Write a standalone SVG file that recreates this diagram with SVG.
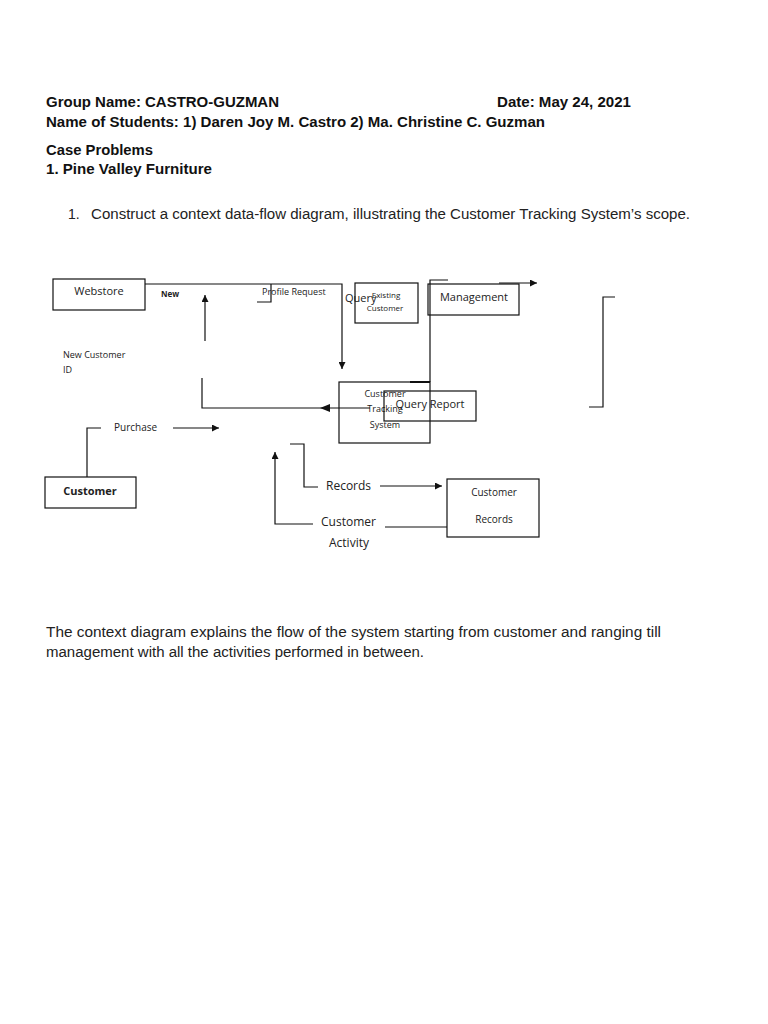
<svg xmlns="http://www.w3.org/2000/svg" width="768" height="1024" viewBox="0 0 768 1024">
<defs>
<style>
.h{font-family:"Liberation Sans",Arial,sans-serif;font-size:14px;font-weight:bold;fill:#111}
.p{font-family:"Liberation Sans",Arial,sans-serif;font-size:14px;fill:#222}
.l{font-family:"Open Sans","Liberation Sans",sans-serif;fill:#222}
.box{fill:none;stroke:#111;stroke-width:1.2}
.ln{fill:none;stroke:#111;stroke-width:1.2}
</style>
<marker id="ah" viewBox="0 0 10 10" refX="10" refY="5" markerWidth="7" markerHeight="7" orient="auto" markerUnits="userSpaceOnUse">
<path d="M0,0 L10,5 L0,10 z" fill="#111"/>
</marker>
</defs>
<rect width="768" height="1024" fill="#fff"/>
<g id="header">
<text class="h" x="46" y="107" textLength="233" lengthAdjust="spacingAndGlyphs">Group Name: CASTRO-GUZMAN</text>
<text class="h" x="497" y="107" textLength="134" lengthAdjust="spacingAndGlyphs">Date: May 24, 2021</text>
<text class="h" x="46" y="127" textLength="499" lengthAdjust="spacingAndGlyphs">Name of Students: 1) Daren Joy M. Castro 2) Ma. Christine C. Guzman</text>
<text class="h" x="46" y="155" fill="#333" textLength="107" lengthAdjust="spacingAndGlyphs">Case Problems</text>
<text class="h" x="46" y="174" textLength="166" lengthAdjust="spacingAndGlyphs">1. Pine Valley Furniture</text>
<text class="p" x="68" y="219" fill="#444">1.</text>
<text class="p" x="91" y="219" fill="#444" textLength="599" lengthAdjust="spacingAndGlyphs">Construct a context data-flow diagram, illustrating the Customer Tracking System’s scope.</text>
</g>
<g id="connectors">
<polyline class="ln" points="145,284 342,284 342,369" marker-end="url(#ah)"/>
<polyline class="ln" points="257,302 271,302 271,284"/>
<line class="ln" x1="205" y1="341" x2="205" y2="295" marker-end="url(#ah)"/>
<polyline class="ln" points="202,378 202,408 370,408"/>
<path d="M320,408 L330,404 L330,412 z" fill="#111"/>
<polyline class="ln" points="448,280 430,280 430,382"/>
<line class="ln" x1="499" y1="283" x2="537" y2="283" marker-end="url(#ah)"/>
<polyline class="ln" points="615,297 603,297 603,407 589,407"/>
<polyline class="ln" points="87,477 87,428 101,428"/>
<line class="ln" x1="173" y1="428" x2="219" y2="428" marker-end="url(#ah)"/>
<polyline class="ln" points="313,524 275,524 275,452" marker-end="url(#ah)"/>
<polyline class="ln" points="290,444 304,444 304,487 318,487"/>
<line class="ln" x1="380" y1="486" x2="442" y2="486" marker-end="url(#ah)"/>
<line class="ln" x1="385" y1="527" x2="447" y2="527"/>
<line x1="410" y1="382" x2="430" y2="382" stroke="#111" stroke-width="2"/>
</g>
<g id="labels">
<text class="l" x="161" y="297" font-size="8" font-weight="bold">New</text>
<text class="l" x="262" y="295" font-size="9">Profile Request</text>
<text class="l" x="63" y="358" font-size="9">New Customer</text>
<text class="l" x="63" y="373" font-size="9">ID</text>
<text class="l" x="345" y="302" font-size="11">Query</text>
<text class="l" x="114" y="431" font-size="10">Purchase</text>
<text class="l" x="326" y="490" font-size="12">Records</text>
<text class="l" x="321" y="526" font-size="12">Customer</text>
<text class="l" x="329" y="547" font-size="12">Activity</text>
</g>
<g id="webstore">
<rect class="box" x="53" y="279" width="92" height="31"/>
<text class="l" x="99" y="295" font-size="11" text-anchor="middle">Webstore</text>
</g>
<g id="existing-customer">
<rect class="box" x="355" y="283" width="63" height="40"/>
<text class="l" x="386" y="298" font-size="8" text-anchor="middle">Existing</text>
<text class="l" x="385" y="311" font-size="8" text-anchor="middle">Customer</text>
</g>
<g id="management">
<rect class="box" x="428" y="284" width="91" height="31"/>
<text class="l" x="474" y="301" font-size="11" text-anchor="middle">Management</text>
</g>
<g id="customer-tracking-system">
<rect class="box" x="339" y="382" width="91" height="61"/>
<text class="l" x="385" y="397" font-size="9" text-anchor="middle">Customer</text>
<text class="l" x="385" y="412" font-size="9" text-anchor="middle">Tracking</text>
<text class="l" x="385" y="428" font-size="9" text-anchor="middle">System</text>
</g>
<g id="query-report">
<rect class="box" x="384" y="391" width="92" height="30"/>
<text class="l" x="430" y="408" font-size="11" text-anchor="middle">Query Report</text>
</g>
<g id="customer">
<rect class="box" x="45" y="477" width="91" height="31"/>
<text class="l" x="90" y="495" font-size="11" font-weight="bold" text-anchor="middle">Customer</text>
</g>
<g id="customer-records">
<rect class="box" x="447" y="479" width="92" height="58"/>
<text class="l" x="494" y="496" font-size="10" text-anchor="middle">Customer</text>
<text class="l" x="494" y="523" font-size="10" text-anchor="middle">Records</text>
</g>
<g id="footer">
<text class="p" x="46" y="637" textLength="615" lengthAdjust="spacingAndGlyphs">The context diagram explains the flow of the system starting from customer and ranging till</text>
<text class="p" x="46" y="657" textLength="378" lengthAdjust="spacingAndGlyphs">management with all the activities performed in between.</text>
</g>
</svg>
